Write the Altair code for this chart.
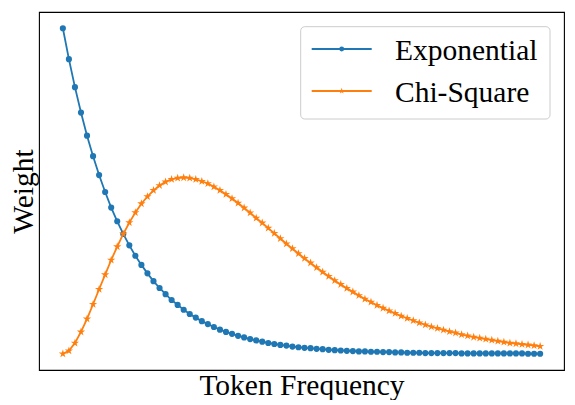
import altair as alt
import pandas as pd

# ---- data ----
series_names = ["Exponential", "Chi-Square"]
colors = ["#1f77b4", "#ff7f0e"]

idx = list(range(80))

exponential = [
    1.000, 0.905, 0.819, 0.741, 0.670, 0.607, 0.549, 0.497, 0.449, 0.407,
    0.368, 0.333, 0.301, 0.273, 0.247, 0.223, 0.202, 0.183, 0.165, 0.150,
    0.135, 0.122, 0.111, 0.100, 0.091, 0.082, 0.074, 0.067, 0.061, 0.055,
    0.050, 0.045, 0.041, 0.037, 0.033, 0.030, 0.027, 0.025, 0.022, 0.020,
    0.018, 0.017, 0.015, 0.014, 0.012, 0.011, 0.010, 0.009, 0.008, 0.007,
    0.007, 0.006, 0.006, 0.005, 0.005, 0.004, 0.004, 0.003, 0.003, 0.003,
    0.002, 0.002, 0.002, 0.002, 0.002, 0.002, 0.001, 0.001, 0.001, 0.001,
    0.001, 0.001, 0.001, 0.001, 0.001, 0.001, 0.001, 0.000, 0.000, 0.000,
]

chi_square = [
    0.000, 0.009, 0.033, 0.067, 0.107, 0.152, 0.198, 0.243, 0.288, 0.329,
    0.368, 0.403, 0.434, 0.461, 0.483, 0.502, 0.517, 0.528, 0.536, 0.540,
    0.541, 0.540, 0.536, 0.530, 0.523, 0.513, 0.502, 0.490, 0.477, 0.463,
    0.448, 0.433, 0.417, 0.402, 0.386, 0.370, 0.354, 0.338, 0.323, 0.308,
    0.293, 0.279, 0.265, 0.251, 0.238, 0.225, 0.213, 0.201, 0.190, 0.179,
    0.168, 0.159, 0.149, 0.140, 0.132, 0.124, 0.116, 0.109, 0.102, 0.095,
    0.089, 0.083, 0.078, 0.073, 0.068, 0.064, 0.059, 0.055, 0.051, 0.048,
    0.045, 0.042, 0.039, 0.036, 0.033, 0.031, 0.029, 0.027, 0.025, 0.023,
]

x_domain = [-3.95, 82.95]
y_domain = [-0.05, 1.05]

FONT = "Liberation Serif"
FS = 29.5
STAR = ("M0,-1L0.2245,-0.309L0.951,-0.309L0.363,0.118L0.588,0.809L0,0.382"
        "L-0.588,0.809L-0.363,0.118L-0.951,-0.309L-0.2245,-0.309Z")

exp_df = pd.DataFrame({"idx": idx, "value": exponential, "series": series_names[0]})
chi_df = pd.DataFrame({"idx": idx, "value": chi_square, "series": series_names[1]})

x_enc = alt.X("idx:Q", scale=alt.Scale(domain=x_domain, nice=False, zero=False),
              axis=alt.Axis(title="Token Frequency", labels=False, ticks=False,
                            grid=False, domain=False, titleFont=FONT,
                            titleFontSize=FS, titleFontWeight="normal",
                            titleColor="black", titleBaseline="alphabetic",
                            titleY=24))
y_enc = alt.Y("value:Q", scale=alt.Scale(domain=y_domain, nice=False, zero=False),
              axis=alt.Axis(title="Weight", labels=False, ticks=False,
                            grid=False, domain=False, titleFont=FONT,
                            titleFontSize=FS, titleFontWeight="normal",
                            titleColor="black", titleBaseline="alphabetic",
                            titleAngle=270, titleX=-6.5, titleY=179,
                            titleAlign="center"))

exp_line = alt.Chart(exp_df).mark_line(color=colors[0], strokeWidth=1.8).encode(x=x_enc, y=y_enc)
exp_pts = alt.Chart(exp_df).mark_point(color=colors[0], filled=True, opacity=1,
                                       shape="circle", size=38).encode(x="idx:Q", y="value:Q")
chi_line = alt.Chart(chi_df).mark_line(color=colors[1], strokeWidth=1.8).encode(x="idx:Q", y="value:Q")
chi_pts = alt.Chart(chi_df).mark_point(color=colors[1], filled=True, opacity=1,
                                       shape=STAR, size=75).encode(x="idx:Q", y="value:Q")

# ---- legend (decoration) ----
one = pd.DataFrame({"k": [0]})
leg_box = alt.Chart(one).mark_rect(fill="white", stroke="#cccccc", strokeWidth=1,
                                   cornerRadius=4).encode(
    x=alt.value(261.7), x2=alt.value(511), y=alt.value(14.7), y2=alt.value(107))

legend_layers = [leg_box]
for i, (name, col, shp, sz, ly) in enumerate(
        [(series_names[0], colors[0], "circle", 24, 37),
         (series_names[1], colors[1], STAR, 40, 79)]):
    legend_layers.append(alt.Chart(one).mark_rule(color=col, strokeWidth=1.8).encode(
        x=alt.value(272.7), x2=alt.value(332.7), y=alt.value(ly)))
    legend_layers.append(alt.Chart(one).mark_point(color=col, filled=True, opacity=1,
                                                   shape=shp, size=sz).encode(
        x=alt.value(302.7), y=alt.value(ly)))
    legend_layers.append(alt.Chart(pd.DataFrame({"t": [name]})).mark_text(
        font=FONT, fontSize=FS, color="black", align="left",
        baseline="alphabetic").encode(
        x=alt.value(356), y=alt.value(ly + 11), text="t:N"))

chart = alt.layer(exp_line, exp_pts, chi_line, chi_pts, *legend_layers).properties(
    width=525, height=358,
    autosize=alt.AutoSizeParams(type="none"),
    padding={"left": 31, "top": 4, "right": 3, "bottom": 30},
).configure_view(stroke="black", strokeWidth=1.1)

chart.save("out.html", embed_options={"renderer": "svg", "actions": False})
